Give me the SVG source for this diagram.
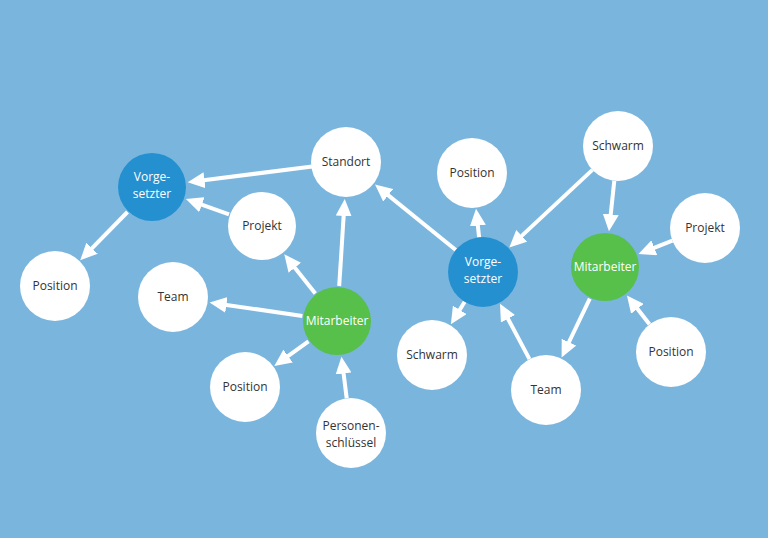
<svg xmlns="http://www.w3.org/2000/svg" width="768" height="538" viewBox="0 0 768 538">
<style>
.bg{fill:#7ab5de}
.n circle{fill:#ffffff}
.blue circle{fill:#2590cf}
.green circle{fill:#56c04a}
text{font-family:"Open Sans","Liberation Sans",sans-serif;font-size:12px;fill:#333333;text-anchor:middle}
.blue text,.green text{fill:#ffffff}
.e line{stroke:#ffffff;stroke-width:4;marker-end:url(#ah)}
</style>
<defs>
<marker id="ah" markerUnits="userSpaceOnUse" markerWidth="18" markerHeight="16" refX="7" refY="8" orient="auto">
<path d="M0,0 L17,8 L0,16 z" fill="#ffffff"/>
</marker>
</defs>
<rect class="bg" x="0" y="0" width="768" height="538"/>
<g id="connectors" class="e">
<line x1="312.3" y1="166.4" x2="197.6" y2="181.1"/>
<line x1="229" y1="214.3" x2="195.3" y2="202.3"/>
<line x1="127.5" y1="212" x2="87.2" y2="253.2"/>
<line x1="315.3" y1="293.5" x2="290.5" y2="262.2"/>
<line x1="339.2" y1="286" x2="344.1" y2="209"/>
<line x1="302.4" y1="315.9" x2="219.5" y2="303.9"/>
<line x1="308.5" y1="341.4" x2="282.4" y2="360.2"/>
<line x1="346.7" y1="398.3" x2="342.7" y2="366.6"/>
<line x1="455.8" y1="250" x2="382.8" y2="190.9"/>
<line x1="479.1" y1="237.2" x2="477.1" y2="218.7"/>
<line x1="592.4" y1="169.9" x2="516.6" y2="240.6"/>
<line x1="614.3" y1="180.8" x2="610" y2="221.3"/>
<line x1="672.4" y1="240.7" x2="647.8" y2="250.3"/>
<line x1="464.7" y1="301.8" x2="456.1" y2="315.8"/>
<line x1="529.5" y1="359.1" x2="504.7" y2="312.6"/>
<line x1="589.8" y1="298.6" x2="565.9" y2="348.5"/>
<line x1="649.5" y1="324.3" x2="633.1" y2="303.3"/>
</g>
<g id="vorgesetzter1" class="n blue"><circle cx="152" cy="187" r="34"/><text x="152" y="181">Vorge-</text><text x="152" y="198">setzter</text></g>
<g id="standort" class="n"><circle cx="346" cy="162" r="35"/><text x="346" y="166">Standort</text></g>
<g id="projekt1" class="n"><circle cx="262" cy="226" r="34"/><text x="262" y="230">Projekt</text></g>
<g id="position1" class="n"><circle cx="55" cy="286" r="35"/><text x="55" y="290">Position</text></g>
<g id="team1" class="n"><circle cx="173" cy="297" r="35"/><text x="173" y="301">Team</text></g>
<g id="mitarbeiter1" class="n green"><circle cx="337" cy="321" r="34"/><text x="337" y="325">Mitarbeiter</text></g>
<g id="position2" class="n"><circle cx="245" cy="387" r="35"/><text x="245" y="391">Position</text></g>
<g id="personenschluessel" class="n"><circle cx="351" cy="433" r="35"/><text x="351" y="430">Personen-</text><text x="351" y="447">schlüssel</text></g>
<g id="position3" class="n"><circle cx="472" cy="173" r="35"/><text x="472" y="177">Position</text></g>
<g id="schwarm1" class="n"><circle cx="618" cy="146" r="35"/><text x="618" y="150">Schwarm</text></g>
<g id="vorgesetzter2" class="n blue"><circle cx="483" cy="272" r="35"/><text x="483" y="266">Vorge-</text><text x="483" y="283">setzter</text></g>
<g id="mitarbeiter2" class="n green"><circle cx="605" cy="267" r="34"/><text x="605" y="271">Mitarbeiter</text></g>
<g id="projekt2" class="n"><circle cx="705" cy="228" r="35"/><text x="705" y="232">Projekt</text></g>
<g id="schwarm2" class="n"><circle cx="432" cy="355" r="35"/><text x="432" y="359">Schwarm</text></g>
<g id="team2" class="n"><circle cx="546" cy="390" r="35"/><text x="546" y="394">Team</text></g>
<g id="position4" class="n"><circle cx="671" cy="352" r="35"/><text x="671" y="356">Position</text></g>
</svg>
